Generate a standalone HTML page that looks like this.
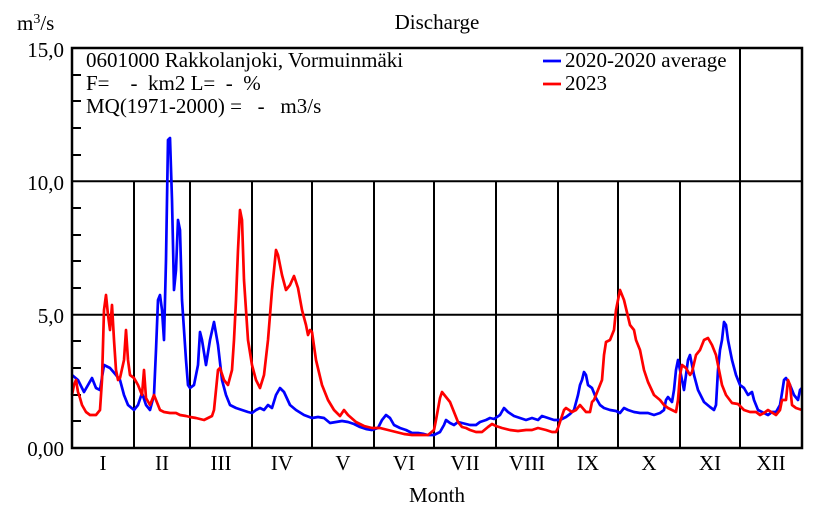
<!DOCTYPE html>
<html><head><meta charset="utf-8"><style>
html,body{margin:0;padding:0;background:#fff;}
svg{display:block;font-family:"Liberation Serif",serif;}
</style></head><body>
<svg width="840" height="520" viewBox="0 0 840 520">
<rect width="840" height="520" fill="#fff"/>
<g stroke="#000" stroke-width="2" fill="none">
<line x1="72" y1="314.7" x2="802" y2="314.7"/>
<line x1="72" y1="181.3" x2="802" y2="181.3"/>
<g>
<line x1="134" y1="181" x2="134" y2="448"/><line x1="190" y1="181" x2="190" y2="448"/>
<line x1="252" y1="181" x2="252" y2="448"/><line x1="312" y1="181" x2="312" y2="448"/>
<line x1="374" y1="181" x2="374" y2="448"/><line x1="434" y1="181" x2="434" y2="448"/>
<line x1="496" y1="181" x2="496" y2="448"/><line x1="558" y1="181" x2="558" y2="448"/>
<line x1="618" y1="181" x2="618" y2="448"/><line x1="680" y1="181" x2="680" y2="448"/>
<line x1="740" y1="48" x2="740" y2="448"/>
</g>
<g>
<line x1="72" y1="75" x2="81" y2="75"/><line x1="72" y1="101" x2="81" y2="101"/>
<line x1="72" y1="128" x2="81" y2="128"/><line x1="72" y1="155" x2="81" y2="155"/>
<line x1="72" y1="208" x2="81" y2="208"/><line x1="72" y1="235" x2="81" y2="235"/>
<line x1="72" y1="261" x2="81" y2="261"/><line x1="72" y1="288" x2="81" y2="288"/>
<line x1="72" y1="341" x2="81" y2="341"/><line x1="72" y1="368" x2="81" y2="368"/>
<line x1="72" y1="395" x2="81" y2="395"/><line x1="72" y1="421" x2="81" y2="421"/>
</g>
</g>
<polyline fill="none" stroke="#0000ff" stroke-width="2.7" stroke-linejoin="round" points="72,375 78,380 84,392 88,385 92,378 96,388 100,390 104,365 110,368 116,375 120,380 124,395 128,405 134,410 138,405 142,393 146,405 150,410 154,395 156,350 158,300 160,295 162,310 164,340 166,260 168,140 170,138 172,200 174,290 176,270 178,220 180,230 182,300 184,330 186,360 188,385 190,388 194,385 198,365 200,332 202,340 206,365 210,340 214,322 218,345 222,380 226,395 230,405 236,408 242,410 248,412 252,413 256,410 260,408 264,410 268,405 272,408 276,395 280,388 284,392 290,405 296,410 304,415 312,418 318,417 324,418 330,423 336,422 342,421 348,422 354,424 360,427 366,429 372,430 378,428 382,420 386,415 390,418 394,425 400,428 406,430 412,433 418,433 424,434 428,435 434,435 440,432 444,425 446,420 450,423 454,425 458,422 462,423 470,425 476,425 480,422 486,420 490,418 494,419 500,415 504,408 508,412 514,416 520,418 526,420 532,418 538,420 542,416 548,418 554,420 560,420 566,417 570,414 574,410 578,395 580,385 582,380 584,372 586,375 588,385 592,388 596,398 600,405 604,408 610,410 616,411 620,413 624,408 628,410 634,412 640,413 648,413 654,415 660,413 664,410 666,400 668,397 672,402 674,390 676,370 678,360 680,370 684,390 688,360 690,355 692,365 694,375 698,390 704,402 710,407 714,410 716,405 718,370 720,350 722,340 724,322 726,325 728,340 732,360 736,375 740,385 744,388 748,395 752,392 754,400 758,410 764,413 768,415 772,412 776,412 780,405 782,393 784,380 786,378 790,385 794,395 798,400 800,390 802,388"/>
<polyline fill="none" stroke="#ff0000" stroke-width="2.7" stroke-linejoin="round" points="72,395 74,385 76,380 78,392 80,398 82,405 86,412 90,415 96,415 100,410 102,380 104,310 106,295 108,315 110,330 112,305 114,340 116,370 118,380 120,378 124,360 126,330 128,360 130,375 134,378 138,385 140,390 142,395 144,370 146,398 150,405 154,395 156,400 160,410 164,412 170,413 176,413 180,415 186,416 190,417 196,418 200,419 204,420 208,418 212,416 214,410 216,390 218,370 220,368 224,380 228,385 232,370 234,340 236,300 238,250 240,210 242,220 244,280 248,340 252,365 256,380 260,388 264,375 268,340 272,290 276,250 278,255 282,275 286,290 290,285 294,276 298,288 302,310 306,325 308,335 310,330 312,332 316,360 322,385 328,400 334,410 340,416 344,410 348,415 356,422 364,426 372,428 380,428 388,430 396,432 404,434 412,435 420,435 428,435 434,430 436,420 440,398 442,392 446,397 450,402 454,412 458,422 462,427 466,428 470,430 476,432 482,432 488,427 492,424 496,426 502,428 510,430 518,431 526,430 532,430 538,428 546,430 552,432 556,432 558,428 564,410 566,408 572,412 576,410 580,405 586,412 590,412 592,402 594,400 598,390 602,380 604,355 606,342 610,340 614,330 616,310 620,290 624,300 630,325 634,330 636,340 640,350 644,370 648,382 654,395 660,400 664,405 668,408 672,410 676,412 678,400 680,375 682,365 686,368 690,375 692,372 696,355 700,350 704,340 708,338 712,345 716,355 718,365 722,385 726,395 732,403 738,404 744,410 750,412 756,412 760,415 764,413 768,410 776,415 780,410 782,400 786,400 788,380 790,385 792,405 796,408 802,410"/>
<rect x="72" y="48" width="730" height="400" fill="none" stroke="#000" stroke-width="2.5"/>
<g font-size="21" fill="#000">
<text x="437" y="29" text-anchor="middle">Discharge</text>
<text x="17" y="30">m<tspan font-size="14" dy="-7">3</tspan><tspan dy="7">/s</tspan></text>
<g text-anchor="end">
<text x="64" y="57">15,0</text><text x="64" y="190">10,0</text>
<text x="64" y="323">5,0</text><text x="64" y="456">0,00</text>
</g>
<text x="86" y="67">0601000 Rakkolanjoki, Vormuinmäki</text>
<text x="86" y="90">F=&#160;&#160;&#160;&#160;-&#160;&#160;km2 L=&#160;&#160;-&#160;&#160;%</text>
<text x="86" y="113">MQ(1971-2000) =&#160;&#160;&#160;-&#160;&#160;&#160;m3/s</text>
<text x="565" y="67">2020-2020 average</text>
<text x="565" y="90">2023</text>
<g text-anchor="middle">
<text x="103" y="470">I</text><text x="162" y="470">II</text><text x="221" y="470">III</text>
<text x="282" y="470">IV</text><text x="343" y="470">V</text><text x="404" y="470">VI</text>
<text x="465" y="470">VII</text><text x="527" y="470">VIII</text><text x="588" y="470">IX</text>
<text x="649" y="470">X</text><text x="710" y="470">XI</text><text x="771" y="470">XII</text>
<text x="437" y="502">Month</text>
</g>
</g>
<line x1="543" y1="61" x2="561" y2="61" stroke="#0000ff" stroke-width="2.7"/>
<line x1="543" y1="84" x2="561" y2="84" stroke="#ff0000" stroke-width="2.7"/>
</svg>
</body></html>
